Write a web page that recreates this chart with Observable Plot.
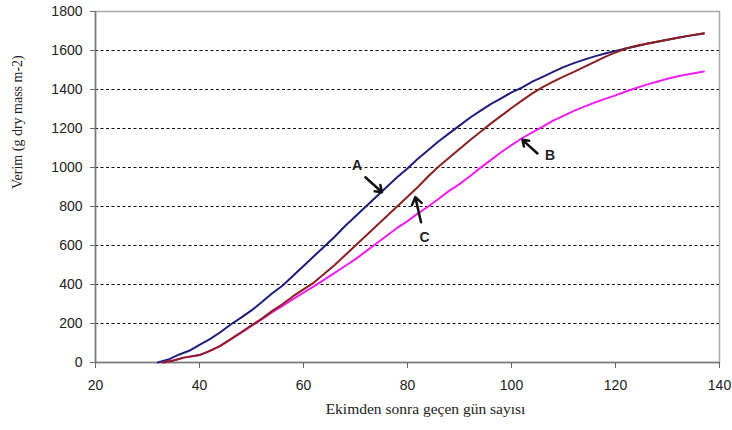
<!DOCTYPE html>
<html>
<head>
<meta charset="utf-8">
<script src="https://cdn.jsdelivr.net/npm/d3@7"></script>
<script src="https://cdn.jsdelivr.net/npm/@observablehq/plot@0.6"></script>
<style>
  html, body { margin: 0; padding: 0; background: #fff; }
  #chart svg { display: block; }
</style>
</head>
<body>
<div id="chart"></div>
<script>
// ---- data ----
const xTicks = [20, 40, 60, 80, 100, 120, 140];
const yTicks = [0, 200, 400, 600, 800, 1000, 1200, 1400, 1600, 1800];
const gridY = [200, 400, 600, 800, 1000, 1200, 1400, 1600];

const xTitle = "Ekimden sonra geçen gün sayısı";
const yTitle = "Verim (g dry mass m-2)";

// Curve A (blue)
const daysA = [32, 34, 36, 38, 40, 42, 44, 46, 48, 50, 52, 54, 56, 58, 60, 62, 64, 66, 68, 70, 72, 74, 76, 78, 80, 82, 84, 86, 88, 90, 92, 94, 96, 98, 100, 102, 104, 106, 108, 110, 112, 114, 116, 118, 120, 122, 124, 126, 128, 130, 132, 134, 137];
const valsA = [0, 15, 40, 60, 90, 120, 155, 195, 230, 267, 310, 355, 395, 445, 495, 545, 595, 645, 700, 750, 800, 850, 900, 950, 995, 1045, 1090, 1135, 1175, 1215, 1255, 1290, 1325, 1355, 1385, 1410, 1440, 1465, 1490, 1515, 1535, 1553, 1570, 1585, 1598, 1610, 1622, 1635, 1645, 1655, 1665, 1675, 1687];

// Curve C (brown)
const daysC = [33, 35, 37, 40, 42, 44, 46, 48, 50, 52, 54, 56, 58, 60, 62, 64, 66, 68, 70, 72, 74, 76, 78, 80, 82, 84, 86, 88, 90, 92, 94, 96, 98, 100, 102, 104, 106, 108, 110, 112, 114, 116, 118, 120, 122, 124, 126, 128, 130, 132, 134, 137];
const valsC = [0, 10, 25, 38, 60, 85, 120, 155, 190, 225, 265, 300, 340, 375, 410, 455, 500, 550, 600, 650, 700, 750, 800, 850, 900, 955, 1005, 1050, 1095, 1140, 1182, 1225, 1265, 1305, 1343, 1380, 1412, 1440, 1466, 1490, 1516, 1542, 1567, 1590, 1610, 1624, 1635, 1645, 1655, 1665, 1675, 1688];

// Curve B (magenta)
const daysB = [33, 35, 37, 40, 42, 44, 46, 48, 50, 52, 54, 56, 58, 60, 62, 64, 66, 68, 70, 72, 74, 76, 78, 80, 82, 84, 86, 88, 90, 92, 94, 96, 98, 100, 102, 104, 106, 108, 110, 112, 114, 116, 118, 120, 122, 124, 126, 128, 130, 132, 134, 137];
const valsB = [0, 10, 25, 38, 60, 85, 118, 152, 188, 222, 258, 290, 325, 358, 390, 425, 460, 495, 530, 570, 610, 650, 690, 725, 765, 800, 840, 880, 915, 955, 998, 1038, 1078, 1115, 1150, 1180, 1210, 1240, 1265, 1290, 1312, 1333, 1352, 1370, 1390, 1408, 1425, 1440, 1455, 1468, 1478, 1492];

const seriesNames = ["A", "B", "C"];
const seriesColors = ["#1e1e7c", "#f01ef0", "#8c2020"];

// annotation letters and arrows (day, value)
const labelText = ["A", "B", "C"];
const labelDay = [70.3, 107.4, 83.3];
const labelVal = [1010, 1062, 640];
const arrowFromDay = [71.9, 105.0, 82.6];
const arrowFromVal = [950, 1072, 719];
const arrowToDay = [75.1, 102.1, 81.5];
const arrowToVal = [873, 1142, 848];

// ---- build tables ----
const rows = [
  ...daysA.map((d, i) => ({series: "A", day: d, value: valsA[i]})),
  ...daysB.map((d, i) => ({series: "B", day: d, value: valsB[i]})),
  ...daysC.map((d, i) => ({series: "C", day: d, value: valsC[i]}))
];
const labels = labelText.map((t, i) => ({t, x: labelDay[i], y: labelVal[i]}));
const arrows = labelText.map((t, i) => ({x1: arrowFromDay[i], y1: arrowFromVal[i], x2: arrowToDay[i], y2: arrowToVal[i]}));

const sans = "'Liberation Sans', Arial, sans-serif";
const serif = "'Liberation Serif', 'Times New Roman', serif";

const chart = Plot.plot({
  width: 732,
  height: 430,
  marginLeft: 95,
  marginRight: 13,
  marginTop: 11,
  marginBottom: 68,
  style: {background: "#fff", fontFamily: sans},
  x: {domain: [20, 140]},
  y: {domain: [0, 1800]},
  color: {domain: seriesNames, range: seriesColors},
  marks: [
    Plot.ruleY(gridY, {stroke: "#111", strokeWidth: 1.2, strokeDasharray: "3,2.5"}),
    Plot.frame({stroke: "#a8a8a8", strokeWidth: 1.5}),
    Plot.axisY({ticks: yTicks, tickSize: 5, tickPadding: 8, fontSize: 14, label: null, stroke: "#666", fill: "#222", tickFormat: d => String(d)}),
    Plot.axisX({ticks: xTicks, tickSize: 6, tickPadding: 12, fontSize: 14, label: null, stroke: "#666", fill: "#222", tickFormat: d => String(d)}),
    Plot.ruleX([20], {stroke: "#777", strokeWidth: 1.5}),
    Plot.ruleY([0], {stroke: "#777", strokeWidth: 1.5}),
    Plot.line(rows, {x: "day", y: "value", z: "series", stroke: "series", strokeWidth: 2}),
    Plot.arrow(arrows, {x1: "x1", y1: "y1", x2: "x2", y2: "y2", stroke: "#111", strokeWidth: 2.5, headLength: 9, headAngle: 70}),
    Plot.text(labels, {x: "x", y: "y", text: "t", fontSize: 14, fontWeight: "bold", fill: "#222", fontFamily: sans}),
    Plot.text([xTitle], {frameAnchor: "bottom", dx: 18, dy: 51, fontSize: 15.5, fill: "#222", fontFamily: serif}),
    Plot.text([yTitle], {frameAnchor: "left", rotate: -90, dx: -78, dy: 2, fontSize: 14, fill: "#222", fontFamily: serif})
  ]
});
document.getElementById("chart").appendChild(chart);
</script>
</body>
</html>
